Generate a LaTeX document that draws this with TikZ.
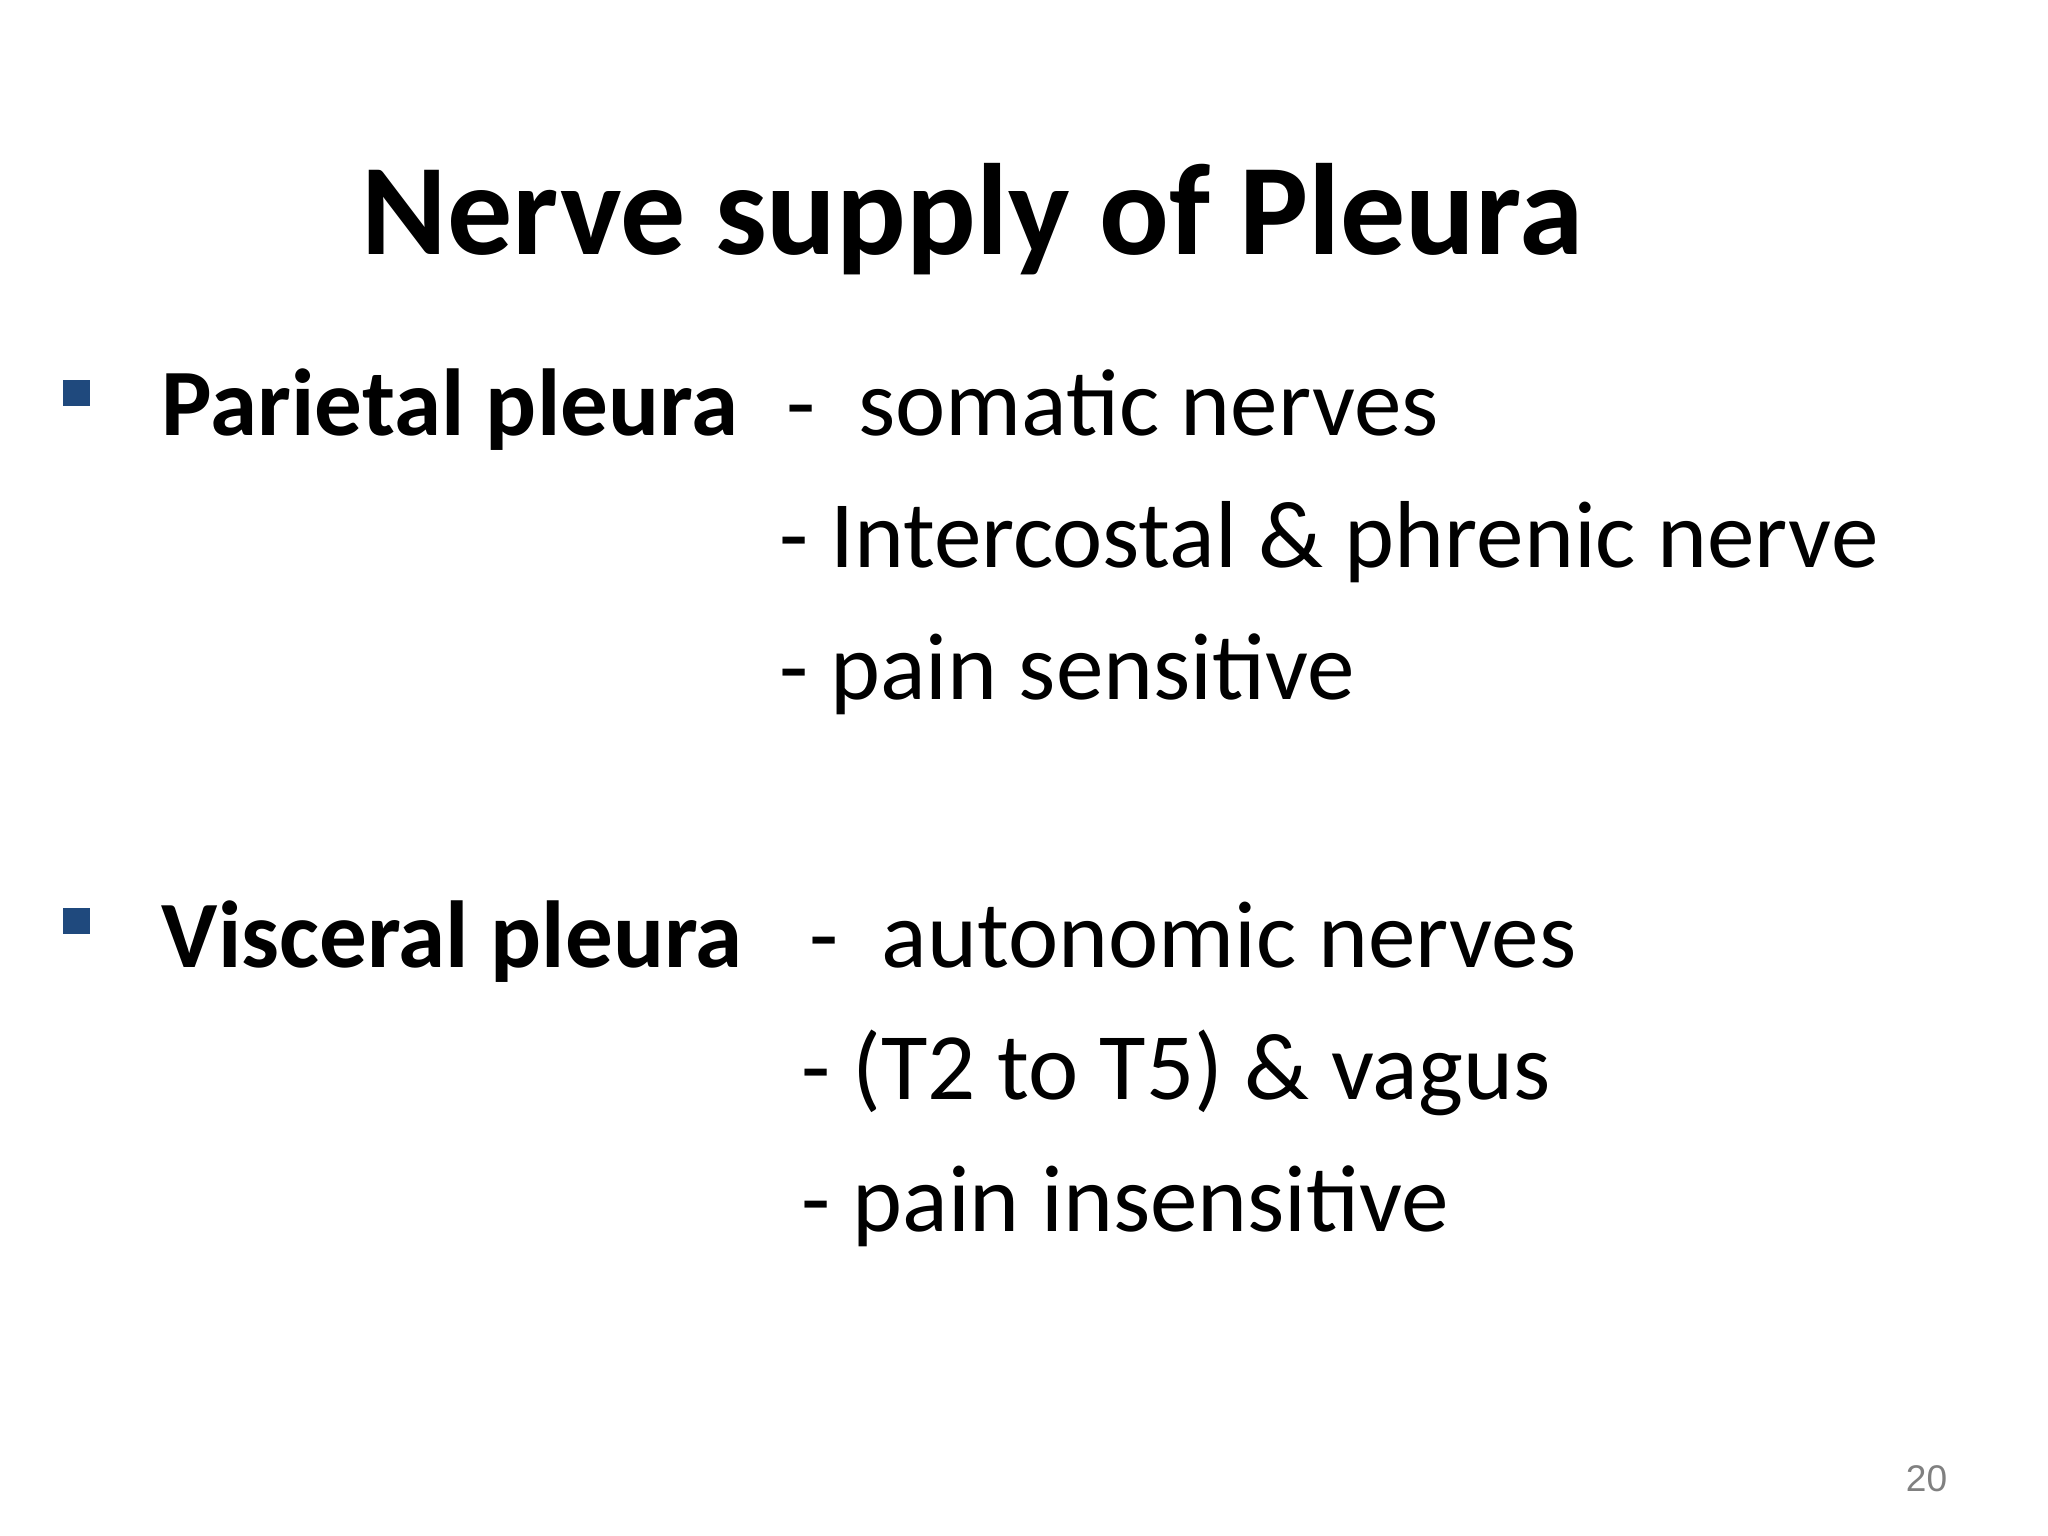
\documentclass[tikz,border=0pt]{standalone}
\usepackage{fontspec}
\setmainfont{Carlito}
\newfontfamily\pnfont{Liberation Sans}
\definecolor{bul}{HTML}{1F497D}
\begin{document}
\begin{tikzpicture}[x=0.01cm,y=-0.01cm,
  txt/.style={anchor=base west,inner sep=0pt,font=\fontsize{20.5}{24}\selectfont},
  bt/.style={txt,font=\fontsize{20.5}{24}\selectfont\bfseries},
  bullet/.style={fill=bul}]
\useasboundingbox (0,0) rectangle (1552,1164);
\node[anchor=base,inner sep=0pt,font=\fontsize{28}{32}\selectfont\bfseries] (title) at (737,193) {Nerve supply of Pleura};
\fill[bullet] (48,288) rectangle (68,308);
\node[bt] (p) at (122,330) {Parietal pleura};
\node[txt] (p1) at (595,330) {-\ \ somatic nerves};
\node[txt] (p2) at (590,430) {- Intercostal \& phrenic nerve};
\node[txt] (p3) at (590,530) {- pain sensitive};
\fill[bullet] (48,688) rectangle (68,708);
\node[bt] (v) at (122,733) {Visceral pleura};
\node[txt] (v1) at (613,733) {-\ \ autonomic nerves};
\node[txt] (v2) at (607,833) {- (T2 to T5) \& vagus};
\node[txt] (v3) at (607,933) {- pain insensitive};
\node[anchor=base,inner sep=0pt,text=gray,font=\pnfont\fontsize{8}{10}\selectfont] (pn) at (1460,1130) {20};
\end{tikzpicture}
\end{document}
